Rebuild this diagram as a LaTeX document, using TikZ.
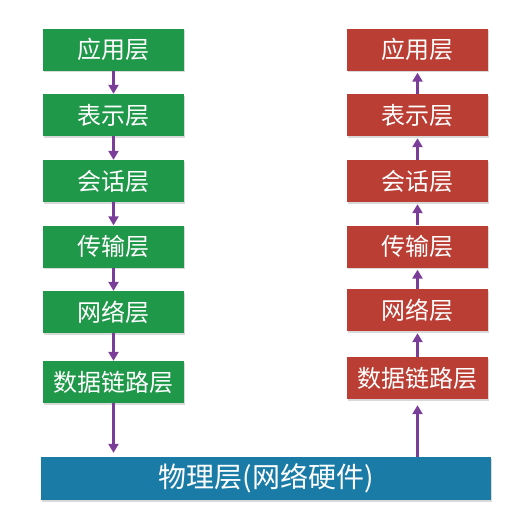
\documentclass[tikz,border=0pt]{standalone}
\usepackage{fontspec}
\newfontfamily\cjk{Noto Sans CJK SC}
\usetikzlibrary{arrows.meta,shadows}
\definecolor{sendgreen}{RGB}{32,152,74}
\definecolor{recvred}{RGB}{186,62,52}
\definecolor{phyblue}{RGB}{26,124,166}
\definecolor{flowpurple}{RGB}{122,62,152}

\begin{document}
\begin{tikzpicture}[x=1pt,y=-1pt,
	layer/.style={minimum width=141pt,minimum height=42pt,inner sep=0pt,text=white,
		font=\cjk\fontsize{24}{24}\selectfont,
		drop shadow={opacity=0.3,shadow xshift=1pt,shadow yshift=-1.5pt}},
	flow/.style={draw=flowpurple,line width=2.6pt,-{Triangle[width=10pt,length=9pt]}}]
	\useasboundingbox (0,0) rectangle (528,517);
	% sending side (left) and receiving side (right)
	\foreach \name/\yl/\yr [count=\i] in {应用层/49.5/49.5,表示层/115/115,会话层/181/181,
		传输层/246.5/246.5,网络层/312/310,数据链路层/382/378}{
		\node[layer,fill=sendgreen] (l\i) at (113.5,\yl) {\name};
		\node[layer,fill=recvred] (r\i) at (417.5,\yr) {\name};
	}
	\node[layer,fill=phyblue,minimum width=450pt,minimum height=43pt,
		font=\cjk\fontsize{28}{28}\selectfont] (phy) at (266,478.5) {物理层(网络硬件)};
	\coordinate (lbase) at (l6 |- phy.north);
	\coordinate (rbase) at (r6 |- phy.north);
	\foreach \i/\j in {1/2,2/3,3/4,4/5,5/6}{
		\draw[flow] (l\i) -- (l\j);
		\draw[flow,shorten >=2pt] (r\j) -- (r\i);
	}
	\draw[flow,shorten >=4pt] (l6) -- (lbase);
	\draw[flow,shorten >=6pt] (rbase) -- (r6);
\end{tikzpicture}
\end{document}
